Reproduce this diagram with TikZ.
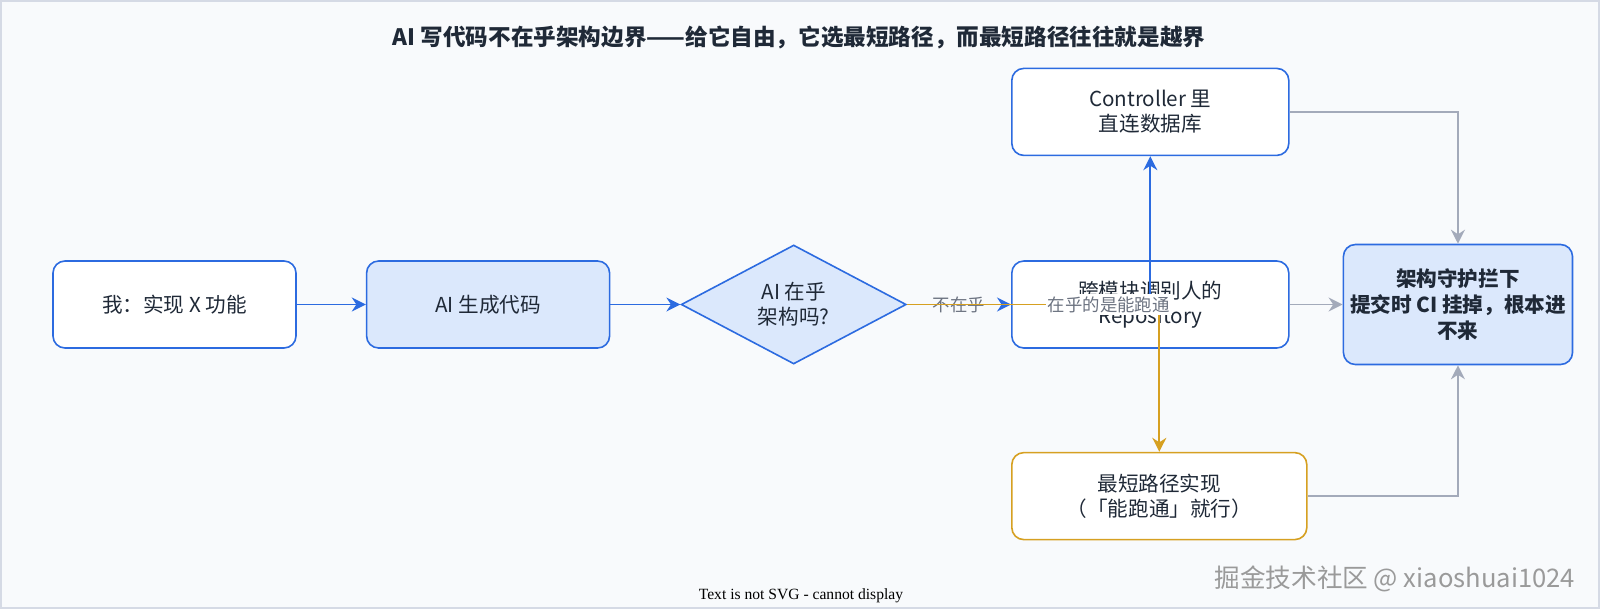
\documentclass[tikz,border=0pt]{standalone}
\usepackage{fontspec}
\setmainfont{Noto Sans CJK SC}
\newfontfamily\svgnote{Liberation Serif}
\usepackage{tikz}
\usetikzlibrary{shapes.geometric, arrows.meta, positioning}
\definecolor{flowblue}{HTML}{2C6BE0}
\definecolor{boxfill}{HTML}{DBE8FC}
\definecolor{gold}{HTML}{D6A021}
\definecolor{guardgray}{HTML}{A3AABA}
\definecolor{inktext}{HTML}{1F2937}
\definecolor{labelgray}{HTML}{6B7280}
\definecolor{canvas}{HTML}{F8FAFC}
\definecolor{framegray}{HTML}{D5DAE5}
\definecolor{markgray}{HTML}{9A9A9A}
\tikzset{
  stepbox/.style={
    rectangle,
    rounded corners=6pt,
    minimum width=121.5pt,
    minimum height=43.5pt,
    align=center,
    draw=flowblue,
    line width=0.8pt,
    fill=white,
    text=inktext,
    font=\fontsize{10.3}{12.5}\selectfont
    },
  aibox/.style={
    stepbox,
    fill=boxfill
    },
  widebox/.style={
    stepbox,
    minimum width=138.5pt
    },
  shortbox/.style={
    stepbox,
    draw=gold,
    minimum width=147.5pt
    },
  guardbox/.style={
    stepbox,
    fill=boxfill,
    minimum width=112.5pt,
    minimum height=60pt,
    font=\fontsize{10.3}{13}\selectfont\bfseries
    },
  decision/.style={
    diamond,
    aspect=1.9,
    inner sep=0pt,
    minimum width=112.5pt,
    minimum height=59.5pt,
    align=center,
    draw=flowblue,
    line width=0.8pt,
    fill=boxfill,
    text=inktext,
    font=\fontsize{10.3}{12.5}\selectfont
    },
  edgelabel/.style={
    inner sep=1pt,
    text=labelgray,
    font=\fontsize{8.7}{10}\selectfont
    },
  flow/.style={draw=flowblue, line width=0.9pt, -{Stealth[length=7pt, width=7pt]}},
  goldflow/.style={flow, draw=gold},
  guardflow/.style={flow, draw=guardgray}
}

\begin{document}
\begin{tikzpicture}[x=0.5pt, y=-0.5pt]
\useasboundingbox (0,0) rectangle (1600,611);
\draw [fill=canvas, draw=framegray, line width=1pt] (1,1) rectangle (1599,608);

\node (title) [text=inktext, font=\fontsize{11.3}{13}\selectfont\bfseries] at (799,37)
  {AI 写代码不在乎架构边界——给它自由，它选最短路径，而最短路径往往就是越界};

\node (me) [stepbox] at (174.5,304.5) {我：实现 X 功能};
\node (gen) [aibox, right=34.5pt of me] {AI 生成代码};
\node (care) [decision, right=35pt of gen] {AI 在乎\\架构吗?};
\node (repo) [widebox, right=52pt of care] {跨模块调别人的\\Repository};
\node (ctrl) [widebox, above=52pt of repo] {Controller 里\\直连数据库};
\node (short) [shortbox, below=51.5pt of repo.south west, anchor=north west] {最短路径实现\\（「能跑通」就行）};
\node (guard) [guardbox, right=26.5pt of repo] {架构守护拦下\\提交时 CI 挂掉，根本进\\不来};

\draw [flow] (me) -- (gen);
\draw [flow] (gen) -- (care);
\draw [flow] (care) -- node [edgelabel, fill=canvas] {不在乎} (repo);
\draw [flow] (care.east) -| (ctrl.south);
\draw [goldflow] (care.east) -| node [edgelabel, fill=white, pos=0.4] {在乎的是能跑通} (short.north);
\draw [guardflow] (ctrl.east) -| (guard.north);
\draw [guardflow] (repo) -- (guard);
\draw [guardflow] (short.east) -| (guard.south);

\node (svgnote) [font=\svgnote\fontsize{7.8}{9}\selectfont] at (801,596) {Text is not SVG - cannot display};
\node (mark) [anchor=east, text=markgray, font=\fontsize{12.8}{14}\selectfont] at (1582,579) {掘金技术社区 @ xiaoshuai1024};
\end{tikzpicture}
\end{document}
